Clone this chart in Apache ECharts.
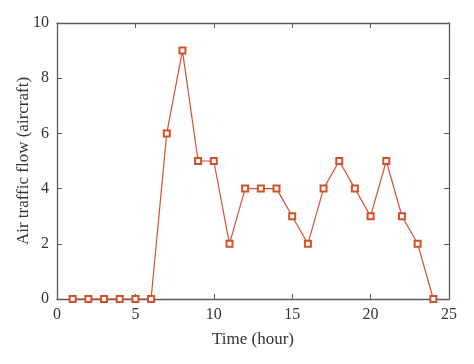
<!DOCTYPE html>
<html>
<head>
<meta charset="utf-8">
<style>
  html, body { margin: 0; padding: 0; background: #fff; }
  #chart { width: 474px; height: 364px; }
</style>
<script src="https://cdn.jsdelivr.net/npm/echarts@6/dist/echarts.min.js"></script>
</head>
<body>
<div id="chart"></div>
<script>
// hours of the day
const hours = [1, 2, 3, 4, 5, 6, 7, 8, 9, 10, 11, 12, 13, 14, 15, 16, 17, 18, 19, 20, 21, 22, 23, 24];
// aircraft count per hour
const flow = [0, 0, 0, 0, 0, 0, 6, 9, 5, 5, 2, 4, 4, 4, 3, 2, 4, 5, 4, 3, 5, 3, 2, 0];

const lineColor = '#d4502a';
const axisColor = '#5a5a5a';
const font = 'Liberation Serif';

const boxAxis = (show) => ({
  axisLine: { show: true, onZero: false, lineStyle: { color: axisColor, width: 1.3 } },
  axisTick: { show: true, inside: true, length: 5, lineStyle: { color: axisColor } },
  axisLabel: {
    show: show,
    color: '#333',
    fontFamily: font,
    fontSize: 16,
  },
  splitLine: { show: false },
});

const chart = echarts.init(document.getElementById('chart'));
chart.setOption({
  animation: false,
  grid: { left: 57, right: 25, top: 23, bottom: 65 },
  xAxis: [
    {
      type: 'value', min: 0, max: 25, interval: 5, position: 'bottom',
      name: 'Time (hour)', nameLocation: 'middle', nameGap: 32,
      nameTextStyle: { color: '#333', fontFamily: font, fontSize: 17 },
      ...boxAxis(true),
    },
    { type: 'value', min: 0, max: 25, interval: 5, position: 'top', ...boxAxis(false) },
  ],
  yAxis: [
    {
      type: 'value', min: 0, max: 10, interval: 2, position: 'left',
      name: 'Air traffic flow (aircraft)', nameLocation: 'middle', nameGap: 25,
      nameMoveOverlap: false,
      nameTextStyle: { color: '#333', fontFamily: font, fontSize: 17 },
      ...boxAxis(true),
    },
    { type: 'value', min: 0, max: 10, interval: 2, position: 'right', ...boxAxis(false) },
  ],
  series: [
    {
      type: 'line',
      data: hours.map((h, i) => [h, flow[i]]),
      symbol: 'emptyRect',
      symbolSize: 6,
      lineStyle: { color: lineColor, width: 1.2 },
      itemStyle: { color: lineColor, borderColor: lineColor, borderWidth: 0.9 },
    },
  ],
});
</script>
</body>
</html>
